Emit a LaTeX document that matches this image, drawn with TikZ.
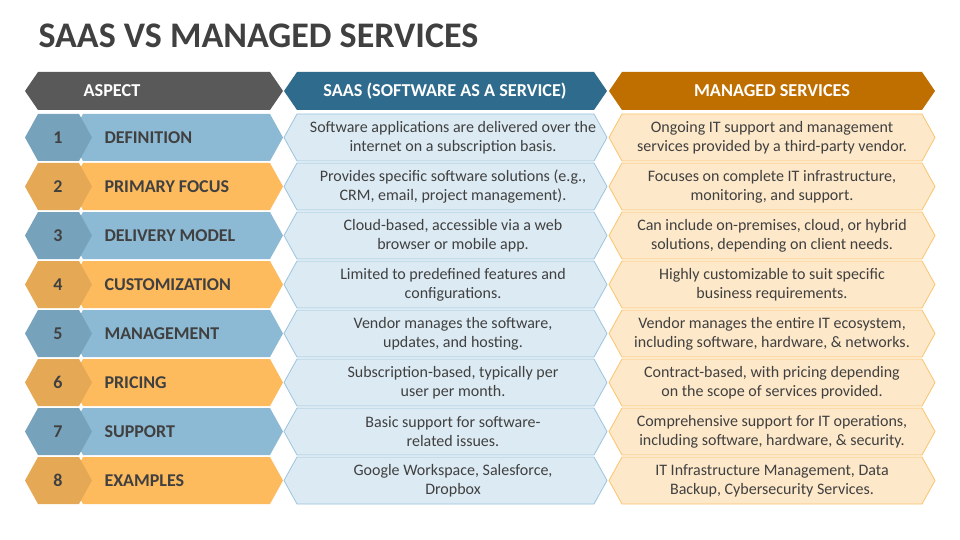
\documentclass[tikz,border=0pt]{standalone}
\usepackage{fontspec}
\setmainfont{Carlito}
\begin{document}
\begin{tikzpicture}[x=1pt,y=-1pt,
  txt/.style={text=tx,font=\fontsize{16}{19.2}\selectfont,align=center},
  lab/.style={text=tx,font=\fontsize{18}{21}\selectfont\bfseries,anchor=west},
  hd/.style={text=white,font=\fontsize{18.2}{21}\selectfont\bfseries}]
\definecolor{tx}{HTML}{404040}
\definecolor{gr}{HTML}{595959}
\definecolor{hb}{HTML}{2F6B8C}
\definecolor{ho}{HTML}{BF6E00}
\definecolor{rb}{HTML}{8CB9D4}
\definecolor{nb}{HTML}{76A2BC}
\definecolor{ro}{HTML}{FDBB5E}
\definecolor{no}{HTML}{E5A955}
\definecolor{cb}{HTML}{DCEAF3}
\definecolor{cbl}{HTML}{9CC4DE}
\definecolor{co}{HTML}{FDE8C9}
\definecolor{col}{HTML}{FBC46E}
\newcommand{\hexp}[5]{(#1,{(#2+#4)/2}) -- (#1+#5,#2) -- (#3-#5,#2) -- (#3,{(#2+#4)/2}) -- (#3-#5,#4) -- (#1+#5,#4) -- cycle}
\useasboundingbox (0,0) rectangle (960,540);
\fill[white] (0,0) rectangle (960,540);
\node[anchor=west,text=tx,font=\fontsize{36}{40}\selectfont\bfseries] (title) at (35,36) {SAAS VS MANAGED SERVICES};
\fill[gr] \hexp{25}{72}{283}{110}{13};
\fill[hb] \hexp{284}{72}{607}{110}{13};
\fill[ho] \hexp{609}{72}{935}{110}{13};
\node[hd] (h1) at (112,91) {ASPECT};
\node[hd] (h2) at (445,91) {SAAS (SOFTWARE AS A SERVICE)};
\node[hd] (h3) at (772,91) {MANAGED SERVICES};
\foreach \ri/\rl/\sa/\sb/\ma/\mb in {%
1/DEFINITION/Software applications are delivered over the/internet on a subscription basis./Ongoing IT support and management/services provided by a third-party vendor.,%
2/PRIMARY FOCUS/{Provides specific software solutions (e.g.,}/{CRM, email, project management).}/{Focuses on complete IT infrastructure,}/{monitoring, and support.},%
3/DELIVERY MODEL/{Cloud-based, accessible via a web}/browser or mobile app./{Can include on-premises, cloud, or hybrid}/{solutions, depending on client needs.},%
4/CUSTOMIZATION/Limited to predefined features and/configurations./Highly customizable to suit specific/business requirements.,%
5/MANAGEMENT/{Vendor manages the software,}/{updates, and hosting.}/{Vendor manages the entire IT ecosystem,}/{including software, hardware, \& networks.},%
6/PRICING/{Subscription-based, typically per}/user per month./{Contract-based, with pricing depending}/on the scope of services provided.,%
7/SUPPORT/Basic support for software-/related issues./{Comprehensive support for IT operations,}/{including software, hardware, \& security.},%
8/EXAMPLES/{Google Workspace, Salesforce,}/Dropbox/{IT Infrastructure Management, Data}/{Backup, Cybersecurity Services.}%
}{
  \pgfmathsetmacro{\yt}{114+(\ri-1)*49}
  \pgfmathsetmacro{\yb}{\yt+47}
  \pgfmathsetmacro{\ym}{\yt+23.5}
  \pgfmathtruncatemacro{\rodd}{mod(\ri,2)}
  \ifnum\rodd=1
    \fill[rb] \hexp{70}{\yt}{283}{\yb}{13};
    \fill[nb] \hexp{25}{\yt}{92}{\yb}{13};
  \else
    \fill[ro] \hexp{70}{\yt}{283}{\yb}{13};
    \fill[no] \hexp{25}{\yt}{92}{\yb}{13};
  \fi
  \draw[cbl,fill=cb,line width=0.8pt] \hexp{284}{\yt}{607}{\yb}{13};
  \draw[col,fill=co,line width=0.8pt] \hexp{609}{\yt}{935}{\yb}{13};
  \node[text=tx,font=\fontsize{18}{21}\selectfont\bfseries] (n\ri) at (58,\ym) {\ri};
  \node[lab] (l\ri) at (101,\ym) {\rl};
  \node[txt] (s\ri) at (453,\ym) {\sa\\\sb};
  \node[txt] (m\ri) at (772,\ym) {\ma\\\mb};
}
\end{tikzpicture}
\end{document}
